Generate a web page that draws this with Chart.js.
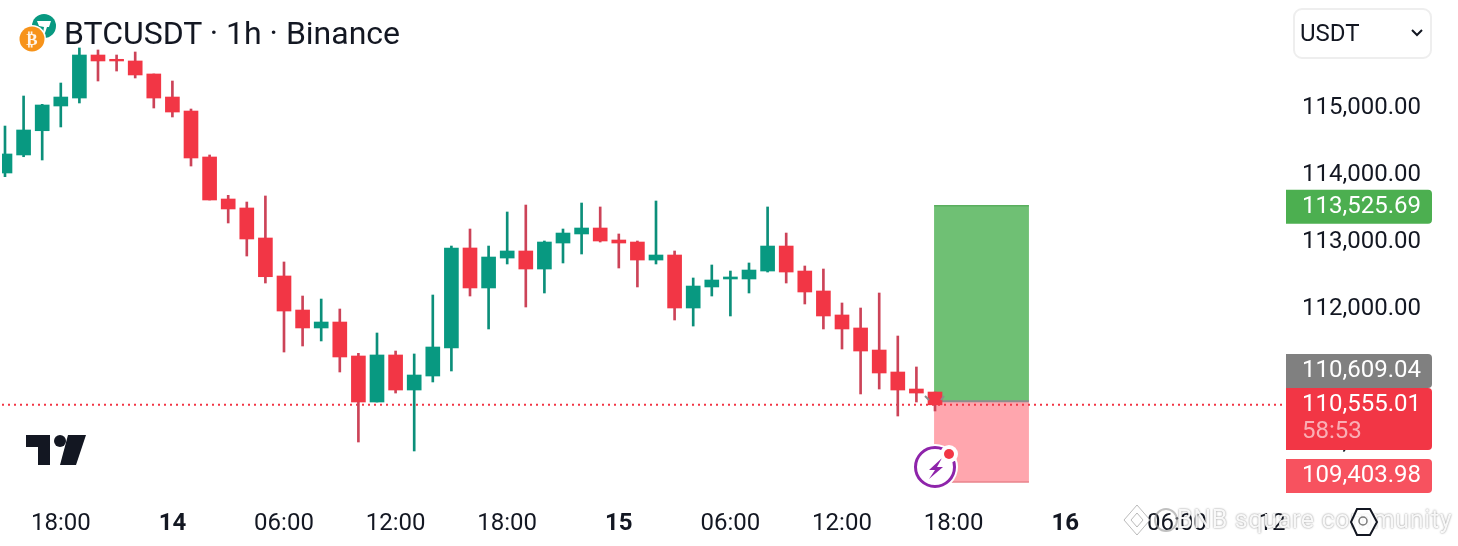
<!DOCTYPE html>
<html><head><meta charset="utf-8">
<script src="https://cdn.jsdelivr.net/npm/chart.js@4"></script>
<style>
html,body{margin:0;padding:0;background:#fff;overflow:hidden}
#wrap{position:relative;width:1458px;height:546px;font-family:Roboto,sans-serif;color:#131722}
canvas{position:absolute;left:0;top:0}
.abs{position:absolute;white-space:nowrap}
#title{left:64px;top:15px;font-size:32px;line-height:36px}
#sel{left:1293px;top:8px;width:135px;height:47px;border:2px solid #eeeeee;border-radius:9px}
#sel span{position:absolute;left:5px;top:9px;font-size:24px;line-height:28px}
#wm{left:1177px;top:505px;font-size:25px;line-height:30px;letter-spacing:.65px;color:rgba(255,255,255,.92);text-shadow:0 0 2px rgba(0,0,0,.5)}
</style></head><body>
<div id="wrap">
<canvas id="c" width="1458" height="546"></canvas>
<svg class="abs" style="left:18px;top:12px" width="50" height="44" viewBox="18 12 50 44">
 <circle cx="44" cy="26" r="12" fill="#089981"/>
 <path d="M37 21h14l-2 6-2 0-2 6-2 0 1-6-5-1z" fill="#fff"/>
 <circle cx="32" cy="39" r="14" fill="#fff"/>
 <circle cx="32" cy="39" r="12.5" fill="#f7931a"/>
 <text x="32" y="45" font-size="17" font-family="DejaVu Sans" font-weight="bold" fill="#fff" fill-opacity=".9" text-anchor="middle">₿</text>
</svg>
<div class="abs" id="title">BTCUSDT · 1h · Binance</div>
<div class="abs" id="sel"><span>USDT</span>
 <svg style="position:absolute;left:115px;top:18px" width="14" height="10"><path d="M2 2l5 5 5-5" fill="none" stroke="#131722" stroke-width="2"/></svg></div>
<svg class="abs" style="left:20px;top:430px" width="70" height="40" viewBox="20 430 70 40">
 <path d="M26 435h24v30h-12v-18h-12z" fill="#131722"/><circle cx="60" cy="441" r="6" fill="#131722"/>
 <path d="M68 435h18l-10 30h-16z" fill="#131722"/>
</svg>
<svg class="abs" style="left:920px;top:390px" width="30" height="14" viewBox="920 390 30 14">
 <path d="M925 396l4 4M944 396l-3 4" fill="none" stroke="#8c8c8c" stroke-width="2"/>
</svg>
<svg class="abs" style="left:908px;top:440px" width="54" height="54" viewBox="908 440 54 54">
 <circle cx="935" cy="467" r="23" fill="#fff"/>
 <circle cx="935" cy="467" r="19.5" fill="#fff" stroke="#8e24aa" stroke-width="3"/>
 <path d="M942 458l-13 12h6l-6 9 14-12h-6z" fill="#8e24aa"/>
 <circle cx="949" cy="454" r="9" fill="#fff"/><circle cx="949" cy="454" r="5" fill="#f23645"/>
</svg>
<svg class="abs" style="left:1120px;top:505px" width="62" height="34" viewBox="1120 505 62 34">
 <path d="M1137 505l13 15-13 15-13-15z M1137 513l-6 7 6 7 6-7z" fill="rgba(255,255,255,.8)" stroke="rgba(120,120,120,.5)" fill-rule="evenodd"/>
 <circle cx="1166" cy="520" r="11" fill="none" stroke="rgba(150,150,150,.6)" stroke-width="2"/>
</svg>
<div class="abs" id="wm">BNB square community</div>
<svg class="abs" style="left:1345px;top:505px" width="36" height="34" viewBox="1345 505 36 34">
 <path d="M1357 509h13l7 13-7 13h-13l-6-13z" fill="#fff" fill-opacity=".75" stroke="#131722" stroke-width="2"/>
 <circle cx="1363" cy="521" r="4" fill="none" stroke="rgba(90,90,90,.8)" stroke-width="1.5"/>
</svg>
</div>
<script>
// ---------- data ----------
const open  = [114015,114284,114646,115015,115134,115776,115712,115687,115493,115149,114940,114254,113627,113493,113045,112478,111970,111702,111791,111284,110597,111299,110776,110985,111403,112896,112299,112746,112851,112582,112970,113105,113194,113015,112985,112716,112791,112000,112314,112433,112433,112552,112925,112552,112254,111896,111702,111373,111045,110791,110746];
const high  = [114716,115164,115040,115358,115881,115851,115776,115821,115493,115388,114970,114284,113682,113582,113672,112687,112179,112134,111985,111324,111627,111358,111314,112194,112925,113179,112925,113433,113537,113000,113179,113567,113508,113105,113000,113597,112851,112448,112642,112552,112672,113508,113119,112627,112582,112075,112000,112224,111582,111120,110746];
const low   = [113960,114258,114209,114702,115060,115388,115537,115433,114985,114851,114119,113612,113269,112776,112373,111343,111433,111508,111045,110000,110597,110731,109866,110896,111060,112179,111687,112657,112015,112224,112672,112806,112985,112597,112314,112657,111821,111731,112179,111881,112224,112537,112373,112060,111687,111388,110717,110791,110388,110597,110463];
const close = [114299,114657,115030,115149,115776,115687,115687,115478,115134,114925,114239,113612,113478,113030,112467,111955,111702,111791,111269,110597,111299,110776,111000,111418,112896,112299,112761,112851,112582,112985,113119,113194,113000,112970,112716,112791,112000,112328,112418,112463,112567,112925,112537,112239,111881,111687,111358,111030,110776,110731,110555.01];
const xTickIndex  = [3,9,15,21,27,33,39,45,51,57,63,69];
const xTickLabels = ["18:00","14","06:00","12:00","18:00","15","06:00","12:00","18:00","16","06:00","12:00"];
const yTicks = [115000,114000,113000,112000,111000,110000];
const lastPrice = 110555.01;
const entryPrice = 110609.04;
const targetPrice = 113525.69;
const stopPrice = 109403.98;
const positionSpan = [49.95,55.05];

// ---------- scale window ----------
const xMin = -0.161, xMax = 68.817, yMin = 109134.5, yMax = 116597;
const UP = '#089981', DOWN = '#f23645', DOWN_WICK = '#cc4358', UP_WICK = '#0b8f7a';
const idx = open.map((_, i) => i);
const isUp = i => close[i] >= open[i];
const fmt = v => v.toLocaleString('en-US', {minimumFractionDigits: 2, maximumFractionDigits: 2});

const overlay = {
  id: 'overlay',
  afterDraw(chart) {
    const {ctx, scales: {y}} = chart;
    ctx.save();
    ctx.fillStyle = '#fff';
    ctx.fillRect(1285, 502, 173, 44);
    ctx.textAlign = 'left'; ctx.textBaseline = 'middle';
    ctx.font = '24px Roboto';
    const tag = (value, top, h, bg, sub) => {
      ctx.fillStyle = bg;
      ctx.beginPath(); ctx.roundRect(1286, top, 146, h, [0, 4, 4, 0]); ctx.fill();
      ctx.fillStyle = '#fff';
      ctx.fillText(fmt(value), 1302, top + 17);
      if (sub) { ctx.fillStyle = 'rgba(255,255,255,.6)'; ctx.fillText(sub, 1302, top + 44); }
    };
    tag(targetPrice, y.getPixelForValue(targetPrice) - 16, 34, '#4caf50');
    tag(stopPrice, 459, 34, '#f7525f');
    tag(entryPrice, 354, 34, '#808080');
    tag(lastPrice, 388, 62, '#f23645', '58:53');
    ctx.restore();
  }
};

new Chart(document.getElementById('c'), {
  type: 'bar',
  plugins: [overlay],
  data: {
    datasets: [
      {type:'bar', order:2, grouped:false, barThickness:14, borderSkipped:false,
       data: idx.map(i => ({x:i, y:[open[i], close[i]]})),
       backgroundColor: idx.map(i => isUp(i) ? UP : DOWN)},
      {type:'bar', order:3, grouped:false, barThickness:2, borderSkipped:false,
       data: idx.map(i => ({x:i, y:[low[i], high[i]]})),
       backgroundColor: idx.map(i => isUp(i) ? UP_WICK : DOWN_WICK)},
      {type:'line', order:4, pointRadius:0, borderColor:'#f23645', borderWidth:2, borderDash:[2,4], fill:false,
       data: [{x:xMin,y:lastPrice},{x:xMax,y:lastPrice}]},
      {type:'line', order:6, pointRadius:0, borderColor:'#5aae5e', borderWidth:1.5, backgroundColor:'#6fc074', fill:{value:entryPrice},
       data: positionSpan.map(x => ({x, y:targetPrice}))},
      {type:'line', order:6, pointRadius:0, borderColor:'#e8838b', borderWidth:1.5, backgroundColor:'#ffa6ae', fill:{value:entryPrice},
       data: positionSpan.map(x => ({x, y:stopPrice}))},
      {type:'line', order:5, pointRadius:0, borderColor:'#8c8c8c', borderWidth:2, fill:false,
       data: positionSpan.map(x => ({x, y:entryPrice}))}
    ]
  },
  options: {
    responsive:false, animation:false, events:[],
    layout:{padding:{left:2,top:0,right:0,bottom:0}},
    plugins:{legend:{display:false},tooltip:{enabled:false},title:{display:false}},
    scales:{
      x:{type:'linear', position:'bottom', min:xMin, max:xMax, offset:false,
        grid:{display:false,drawTicks:false,offset:false}, border:{display:false},
        afterBuildTicks(s){ s.ticks = xTickIndex.map(v => ({value:v})); },
        afterFit(s){ s.height = 46; s.paddingLeft = 0; s.paddingRight = 0; s.paddingTop = 0; s.paddingBottom = 0; },
        ticks:{autoSkip:false,maxRotation:0,minRotation:0,padding:10,color:'#131722',
          font:c => ({family:'Roboto',size:24,weight:xTickLabels[c.index] && xTickLabels[c.index].length<=2?'bold':'normal'}),
          callback:(v,i) => xTickLabels[i]}},
      y:{type:'linear', position:'right', min:yMin, max:yMax,
        grid:{display:false,drawTicks:false}, border:{display:false},
        afterBuildTicks(s){ s.ticks = yTicks.map(v => ({value:v})); },
        afterFit(s){ s.width = 173; s.paddingLeft = 0; s.paddingRight = 0; s.paddingTop = 0; s.paddingBottom = 0; },
        ticks:{autoSkip:false,padding:17,labelOffset:0.5,color:'#131722',
          font:{family:'Roboto',size:24}, callback:v => fmt(v)}}
    }
  }
});
</script>
</body></html>
